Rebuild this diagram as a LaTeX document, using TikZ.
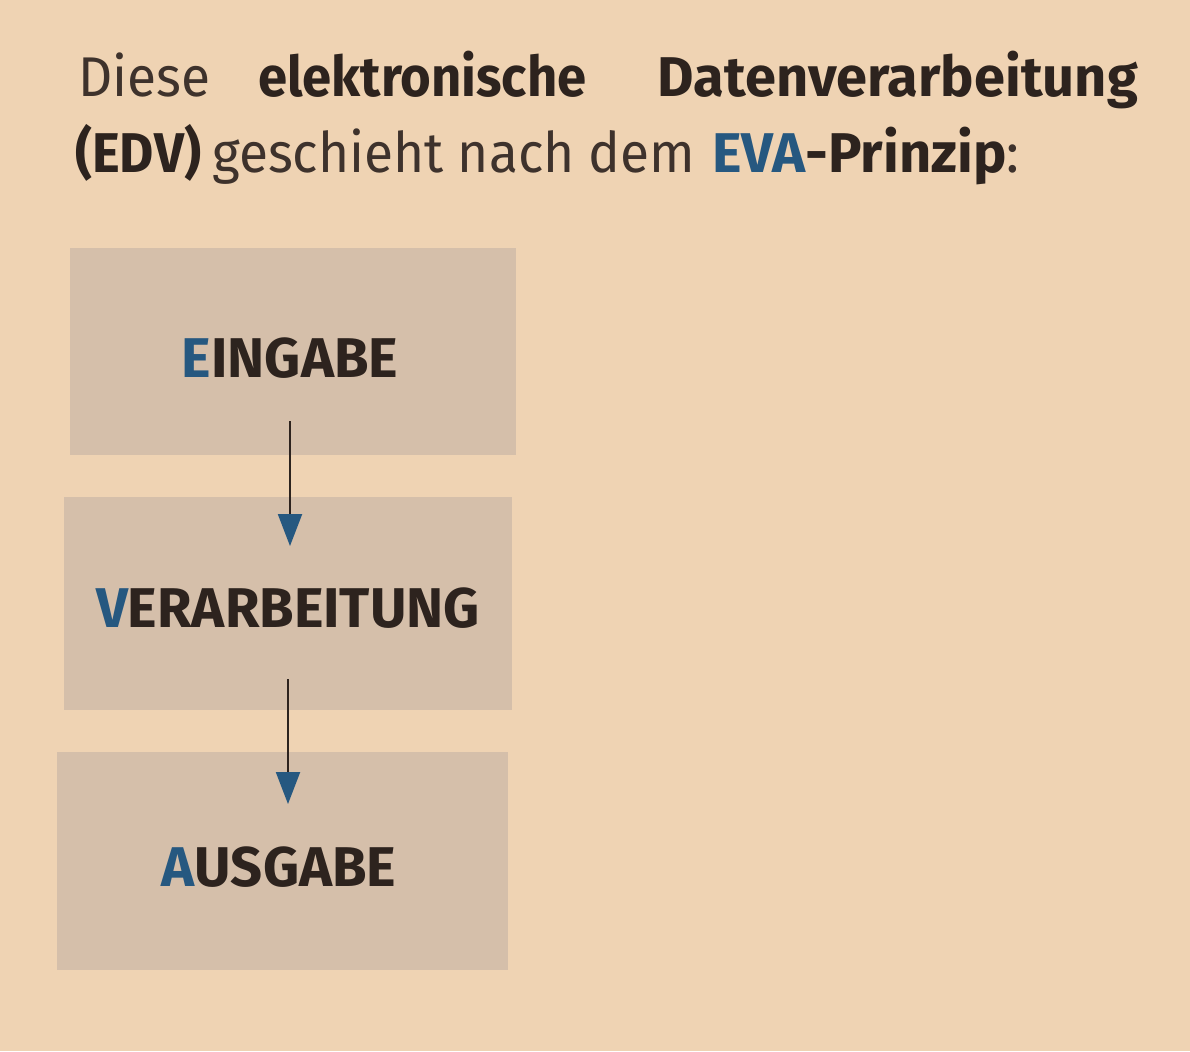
\documentclass[tikz,border=0pt]{standalone}
\usepackage{fontspec}
\setmainfont{Fira Sans}
\newfontfamily\lightreg{Fira Sans}[FakeStretch=0.95]
\newfontfamily\boldc{Fira Sans}[FakeStretch=0.94]
\usetikzlibrary{arrows.meta}
\definecolor{page}{RGB}{239,211,179}
\definecolor{boxc}{RGB}{213,191,170}
\definecolor{eblue}{RGB}{38,88,128}
\definecolor{ink}{RGB}{45,35,30}
\definecolor{inkl}{RGB}{62,50,44}
\begin{document}
\begin{tikzpicture}[x=1pt,y=-1pt,
  every node/.style={text=ink, inner sep=0pt},
  box/.style={fill=boxc, draw=none},
  lbl/.style={font=\fontsize{56}{60}\selectfont\bfseries},
  body/.style={font=\fontsize{56}{60}\selectfont\lightreg, text=inkl},
  bodyb/.style={font=\fontsize{56}{60}\selectfont\bfseries},
  bodybc/.style={font=\fontsize{56}{60}\selectfont\boldc\bfseries},
  flow/.style={draw=ink, line width=2pt, -{Triangle[length=32pt,width=24pt,color=eblue]}}]
\useasboundingbox (0,0) rectangle (1190,1051);
\fill[page] (0,0) rectangle (1190,1051);
% text
\node[body, anchor=base west] (w1) at (78,97) {Diese};
\node[bodybc, anchor=base west] (w2) at (258,97) {elektronische};
\node[bodyb, anchor=base east] (w3) at (1138,97) {Datenverarbeitung};
\node[bodybc, anchor=base west] (w4) at (75,173) {(EDV)};
\node[body, anchor=base west] (w5) at (212,173) {geschieht nach dem};
\node[bodyb, anchor=base west] (w6) at (712,173) {\textcolor{eblue}{EVA}-Prinzip\textmd{\lightreg\color{inkl}:}};
% boxes
\node[box, minimum width=446pt, minimum height=207pt] (b1) at (293,351.5) {};
\node[box, minimum width=448pt, minimum height=213pt] (b2) at (288,603.5) {};
\node[box, minimum width=451pt, minimum height=218pt] (b3) at (282.5,861) {};
% labels
\node[lbl, anchor=base] (t1) at (290,377) {\textcolor{eblue}{E}INGABE};
\node[lbl, anchor=base] (t2) at (288,627) {\textcolor{eblue}{V}ERARBEITUNG};
\node[lbl, anchor=base] (t3) at (279,886) {\textcolor{eblue}{A}USGABE};
% arrows
\draw[flow, shorten <=43pt, shorten >=41pt] (t1.south) -- (t1.south |- t2.north);
\draw[flow, shorten <=51pt, shorten >=42pt] (t2.south) -- (t2.south |- t3.north);
\end{tikzpicture}
\end{document}
